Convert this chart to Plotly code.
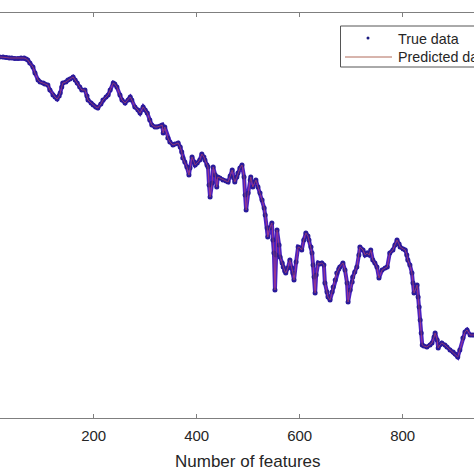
import plotly.graph_objects as go

features = [
    18, 24, 30, 36, 41, 47, 53, 59, 65, 69,
    72, 76, 82, 86, 92, 96, 102, 105, 111, 115,
    121, 125, 129, 133, 135, 138, 140, 146, 150, 154,
    160, 164, 168, 173, 177, 183, 187, 189, 195, 199,
    204, 208, 214, 218, 224, 228, 232, 238, 241, 245,
    251, 255, 261, 267, 271, 274, 280, 286, 290, 296,
    300, 304, 309, 313, 319, 323, 329, 333, 335, 338,
    344, 348, 354, 358, 364, 368, 371, 373, 377, 381,
    385, 387, 391, 395, 397, 401, 406, 410, 414, 416,
    420, 422, 424, 426, 430, 432, 436, 439, 441, 445,
    451, 457, 461, 465, 469, 472, 474, 478, 480, 484,
    488, 492, 494, 496, 500, 504, 505, 509, 513, 515,
    519, 523, 527, 531, 533, 537, 538, 542, 546, 548,
    550, 552, 554, 556, 560, 562, 566, 568, 571, 573,
    577, 581, 585, 587, 589, 593, 597, 601, 604, 608,
    612, 616, 618, 622, 624, 626, 628, 630, 632, 636,
    639, 643, 647, 649, 653, 655, 659, 663, 665, 669,
    672, 676, 678, 684, 688, 692, 694, 698, 702, 703,
    707, 711, 715, 717, 723, 727, 731, 735, 738, 742,
    746, 750, 754, 760, 766, 770, 775, 781, 785, 789,
    793, 795, 801, 805, 808, 810, 814, 818, 820, 822,
    826, 828, 830, 832, 834, 836, 838, 841, 847, 853,
    857, 861, 863, 867, 869, 872, 876, 882, 886, 892,
    898, 902, 907, 911, 917, 921, 925, 931, 935, 939,
]

true_data = [
    361, 361, 360.5, 360, 360, 359.5, 359.5, 360, 360, 359,
    358, 355, 351, 345, 338, 336, 335, 334, 333, 328,
    323, 321, 319, 322, 325, 331, 335, 336, 338, 339,
    341, 338, 335, 331, 328, 328, 322, 318, 315, 313,
    311, 310, 314, 318, 321, 323, 328, 335, 334, 331,
    323, 318, 315, 318, 321, 318, 311, 308, 305, 311,
    308, 305, 298, 293, 291, 291, 292, 293, 285, 291,
    280, 276, 273, 274, 275, 271, 266, 260, 256, 251,
    243, 250, 261, 256, 253, 255, 258, 264, 261, 258,
    253, 251, 233, 221, 235, 251, 243, 231, 241, 240,
    238, 237, 236, 242, 248, 240, 236, 241, 245, 250,
    253, 241, 223, 208, 225, 238, 241, 231, 236, 238,
    231, 225, 218, 210, 203, 190, 181, 190, 195, 178,
    165, 128, 163, 188, 173, 161, 155, 151, 147, 145,
    150, 158, 150, 145, 138, 156, 171, 170, 168, 178,
    185, 182, 178, 171, 165, 153, 141, 125, 143, 155,
    154, 155, 153, 135, 126, 121, 118, 126, 131, 138,
    145, 149, 151, 155, 148, 135, 116, 128, 136, 141,
    146, 151, 163, 171, 168, 163, 165, 163, 168, 158,
    155, 151, 140, 148, 150, 151, 165, 168, 173, 178,
    174, 171, 169, 168, 163, 158, 153, 145, 135, 125,
    130, 133, 121, 111, 98, 85, 73, 72, 71, 73,
    75, 81, 85, 78, 70, 73, 75, 73, 71, 68,
    66, 64, 61, 68, 80, 86, 88, 83, 83, 83,
]

predicted_data = list(true_data)

tick_vals = [200, 400, 600, 800]
tick_text = ["200", "400", "600", "800"]
legend_labels = ["True data", "Predicted data"]
x_title = "Number of features"

assert len(features) == len(true_data)

W, H = 474, 474
ML, MR, MT, MB = 0, 0, 13, 56
PW, PH = W - ML - MR, H - MT - MB

def px(x):
    return (x - ML) / PW

def py(y):
    return (H - MB - y) / PH

FONT = "Liberation Sans, Arial, sans-serif"
TRACK = "#4a20c2"
DOT = "#2a1a9a"
RED = "#e0505c"
AX = "#7f7f7f"

fig = go.Figure()
fig.add_trace(go.Scatter(x=features, y=true_data, mode="lines+markers",
                         line=dict(color=TRACK, width=4),
                         marker=dict(size=5, color=DOT, line=dict(width=0)),
                         name=legend_labels[0], showlegend=False))
fig.add_trace(go.Scatter(x=features, y=predicted_data, mode="lines",
                         line=dict(color=RED, width=1),
                         opacity=0.55,
                         name=legend_labels[1], showlegend=False))

fig.update_layout(
    width=W, height=H,
    margin=dict(l=ML, r=MR, t=MT, b=MB, pad=0),
    paper_bgcolor="white", plot_bgcolor="white",
    showlegend=False,
    xaxis=dict(range=[18.1, 938.5], tickvals=tick_vals, ticktext=tick_text,
               ticks="inside", ticklen=4, tickcolor=AX, tickwidth=1,
               showline=True, linecolor=AX, linewidth=1, mirror="ticks",
               showgrid=False, zeroline=False, ticklabelstandoff=4,
               tickfont=dict(family=FONT, size=15, color="#262626")),
    yaxis=dict(range=[0, 405], visible=False),
    shapes=[
        dict(type="rect", xref="paper", yref="paper",
             x0=px(340.5), x1=px(490), y0=py(67), y1=py(26),
             line=dict(color="#555555", width=1), fillcolor="white", layer="above"),
        dict(type="line", xref="paper", yref="paper",
             x0=px(345), x1=px(392), y0=py(57), y1=py(57),
             line=dict(color="#b06a5a", width=1), layer="above"),
        dict(type="circle", xref="paper", yref="paper",
             x0=px(366.5), x1=px(369.5), y0=py(39.5), y1=py(36.5),
             line=dict(color="#1a1a80", width=0), fillcolor="#1a1a80", layer="above"),
    ],
    annotations=[
        dict(text=legend_labels[0], xref="paper", yref="paper",
             x=px(396), y=py(39), xanchor="left", yanchor="middle", showarrow=False,
             font=dict(family=FONT, size=14.3, color="#262626")),
        dict(text=legend_labels[1], xref="paper", yref="paper",
             x=px(396), y=py(57), xanchor="left", yanchor="middle", showarrow=False,
             font=dict(family=FONT, size=14.3, color="#262626")),
        dict(text=x_title, xref="paper", yref="paper",
             x=px(248), y=py(461), xanchor="center", yanchor="middle", showarrow=False,
             font=dict(family=FONT, size=17, color="#262626")),
    ],
)

fig.write_html("out.html")
